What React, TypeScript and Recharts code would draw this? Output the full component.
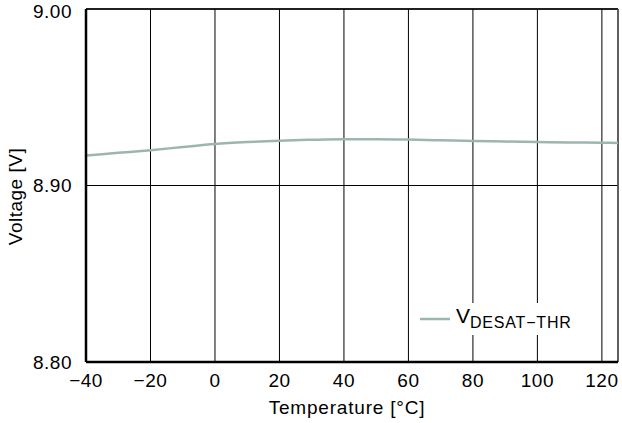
import React from 'react'
import { CartesianGrid, Line, LineChart, ReferenceLine, XAxis, YAxis } from 'recharts'

const temps = [-40, -30, -20, -10, 0, 10, 20, 30, 40, 50, 60, 70, 80, 90, 100, 110, 120, 125]
const vDesatThr = [8.917, 8.9185, 8.92, 8.9218, 8.9235, 8.9246, 8.9254, 8.9259, 8.9262, 8.9262, 8.926, 8.9256, 8.9252, 8.9249, 8.9246, 8.9244, 8.9242, 8.9241]
const xTicks = [-40, -20, 0, 20, 40, 60, 80, 100, 120]
const yTicks = [8.8, 8.9, 9.0]

const data = temps.map((t, i) => ({ t, v: vDesatThr[i] }))

const font = '"Liberation Sans", Arial, sans-serif'
const lineColor = '#9db5b1'
const tickStyle = { fill: '#000', fontSize: 19, fontFamily: font, letterSpacing: 0.5 }

const fmtX = (v: number) => (v < 0 ? '\u2212' + Math.abs(v) : String(v))

// rotated y title, sits a bit below the plot's middle like the original
const YTitle = ({ viewBox }: any) =>
{
    const cx = 22
    const cy = viewBox.y + viewBox.height / 2 + 11
    return (
        <text
            x={cx}
            y={cy}
            transform={`rotate(-90, ${cx}, ${cy})`}
            textAnchor="middle"
            fill="#000"
            fontSize={19}
            fontFamily={font}
            letterSpacing={0.5}
        >
            Voltage [V]
        </text>
    )
}

// legend drawn as a plain overlay so it doesn't eat plot space
const LegendBox = () =>
{
    return (
        <div style={{
            position: 'absolute', left: 415, top: 303, width: 162, height: 32, background: '#fff',
            display: 'flex', alignItems: 'center', fontFamily: font, color: '#000'
        }}>
            <svg width={30} height={4} style={{ marginLeft: 5 }}>
                <line x1={0} y1={2} x2={30} y2={2} stroke={lineColor} strokeWidth={2.5} />
            </svg>
            <span style={{ marginLeft: 6, fontSize: 21, lineHeight: '21px' }}>
                V<sub style={{ fontSize: 16, verticalAlign: -5, letterSpacing: 0.8 }}>DESAT{'\u2212'}THR</sub>
            </span>
        </div>
    )
}

const App = () =>
{
    return (
        <div style={{ position: 'absolute', left: 0, top: 0, width: 622, height: 423, background: '#fff' }}>
            <LineChart width={622} height={423} data={data} margin={{ top: 9, right: 4, bottom: 31, left: 26 }}>
                <CartesianGrid stroke="#000" strokeWidth={1} horizontal vertical />
                <XAxis
                    dataKey="t"
                    type="number"
                    domain={[-40, 125]}
                    ticks={xTicks}
                    tickFormatter={fmtX}
                    tickLine={false}
                    axisLine={{ stroke: '#000', strokeWidth: 2.5 }}
                    tick={tickStyle}
                    tickMargin={6}
                    height={30}
                    label={{ value: 'Temperature [\u00B0C]', position: 'insideBottom', offset: -22, dx: -5, ...tickStyle, letterSpacing: 0.8 }}
                />
                <YAxis
                    type="number"
                    domain={[8.8, 9.0]}
                    ticks={yTicks}
                    tickFormatter={(v: number) => v.toFixed(2)}
                    tickLine={false}
                    axisLine={{ stroke: '#000', strokeWidth: 2.5 }}
                    tick={tickStyle}
                    tickMargin={8}
                    width={60}
                    label={<YTitle />}
                />
                <ReferenceLine y={9.0} stroke="#000" strokeWidth={1.5} />
                <ReferenceLine x={125} stroke="#555" strokeWidth={1.5} />
                <Line
                    dataKey="v"
                    type="monotone"
                    stroke={lineColor}
                    strokeWidth={2.5}
                    dot={false}
                    isAnimationActive={false}
                />
            </LineChart>
            <LegendBox />
        </div>
    )
}

export default App
